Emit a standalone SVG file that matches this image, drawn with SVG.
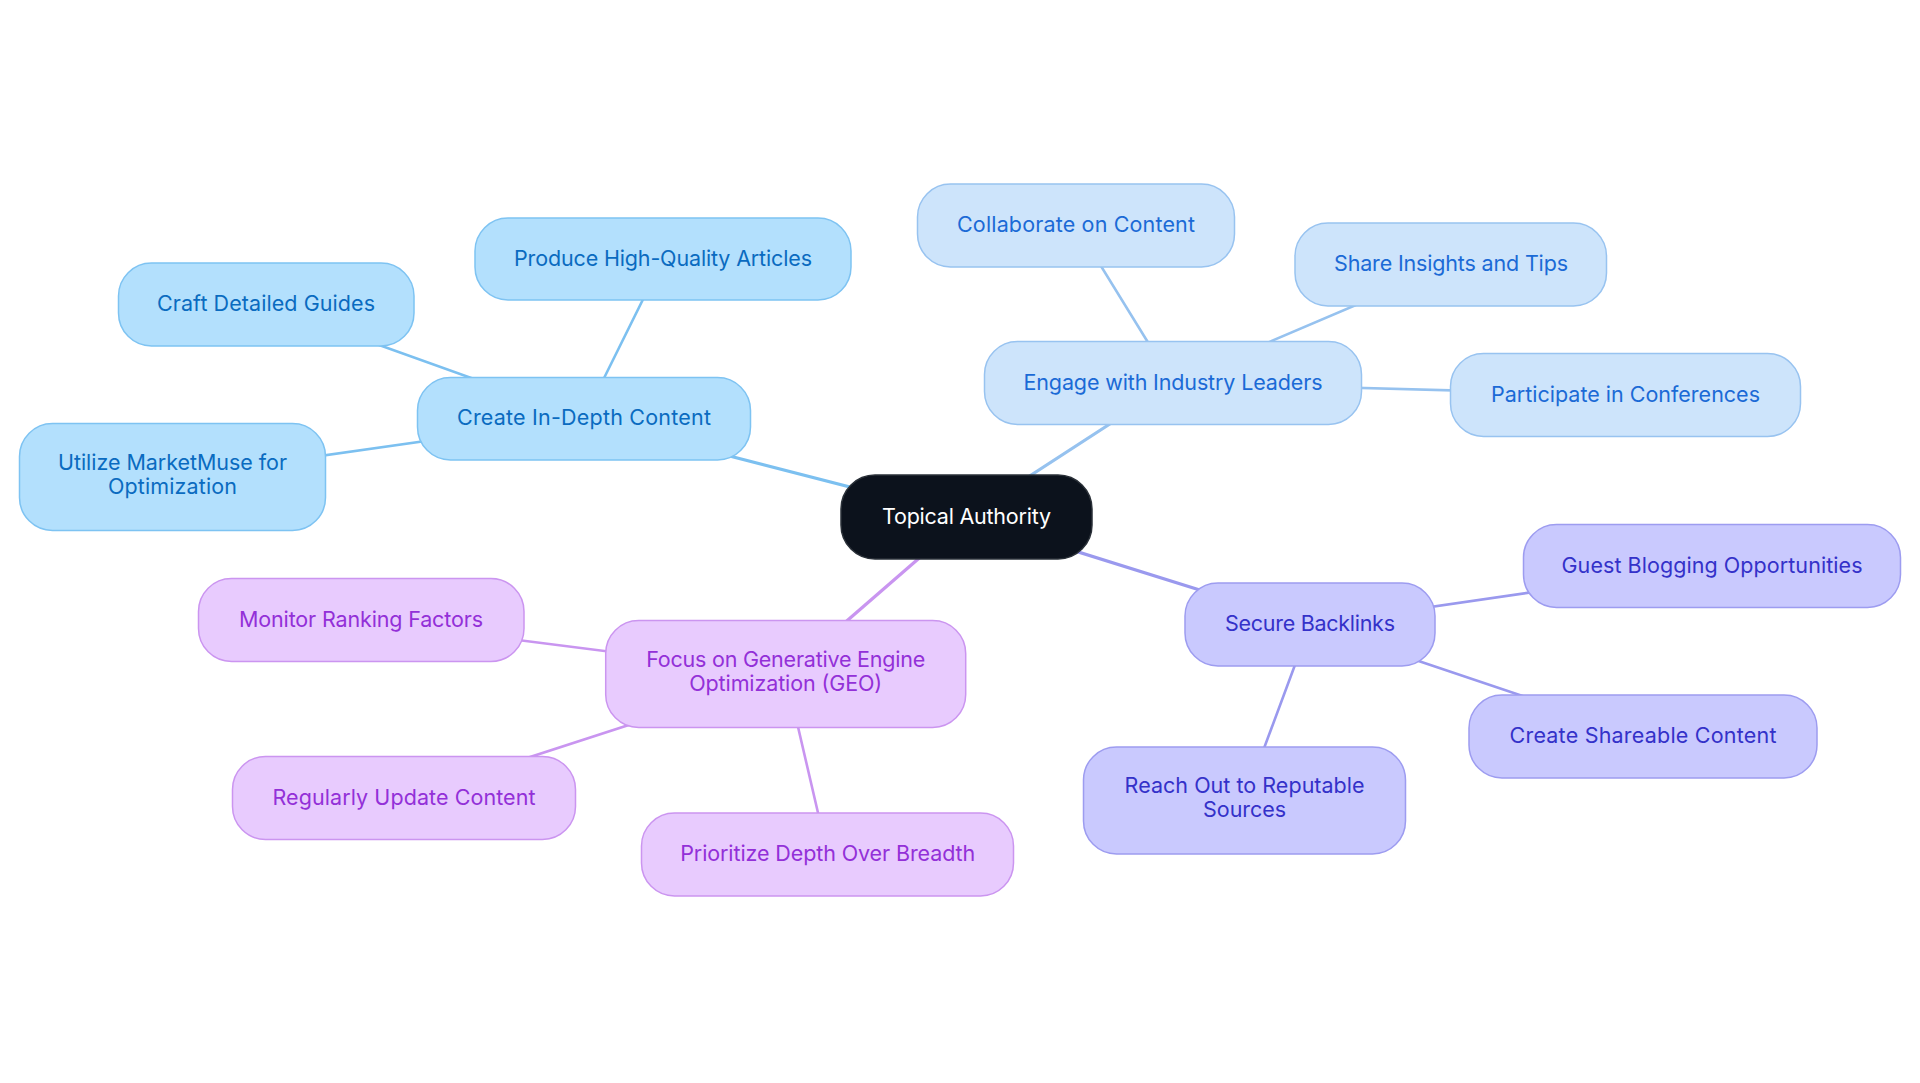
<svg xmlns="http://www.w3.org/2000/svg" width="1920" height="1083" viewBox="0 0 1920 1083">
<style>
text{font-family:Inter,"Noto Sans","Liberation Sans",sans-serif;font-size:21.5px;text-anchor:middle}
.e{fill:none;stroke-linecap:round}
.e0{stroke-width:3.2}
.e1{stroke-width:2.6}
.ea{stroke:#7cc0f0}.eb{stroke:#96c2ef}.ec{stroke:#9a99ee}.ed{stroke:#c995f0}
.n{stroke-width:1.5}
.root rect{fill:#0c121c;stroke:#2a3038}
.root text{fill:#ffffff}
.a rect{fill:#b3e0fd;stroke:#7ec3f2}.a text{fill:#0a6bc0}
.b rect{fill:#cde4fb;stroke:#98c3f0}.b text{fill:#1b6ad6}
.c rect{fill:#c9c9fe;stroke:#9d9cf0}.c text{fill:#3431c9}
.d rect{fill:#e8cbfe;stroke:#cb95f0}.d text{fill:#9330d8}
</style>
<rect width="1920" height="1083" fill="#ffffff"/>
<g id="connectors">
<line class="e e0 ea" x1="966.5" y1="517" x2="584" y2="418.5"/>
<line class="e e1 ea" x1="584" y1="418.5" x2="663" y2="259"/>
<line class="e e1 ea" x1="584" y1="418.5" x2="266" y2="304.5"/>
<line class="e e1 ea" x1="584" y1="418.5" x2="172.5" y2="477"/>
<line class="e e0 eb" x1="966.5" y1="517" x2="1173" y2="383"/>
<line class="e e1 eb" x1="1173" y1="383" x2="1076" y2="225.5"/>
<line class="e e1 eb" x1="1173" y1="383" x2="1451" y2="264.5"/>
<line class="e e1 eb" x1="1173" y1="383" x2="1625.5" y2="395"/>
<line class="e e0 ec" x1="966.5" y1="517" x2="1310" y2="624.5"/>
<line class="e e1 ec" x1="1310" y1="624.5" x2="1712" y2="566"/>
<line class="e e1 ec" x1="1310" y1="624.5" x2="1643" y2="736.5"/>
<line class="e e1 ec" x1="1310" y1="624.5" x2="1244.6" y2="800.5"/>
<line class="e e0 ed" x1="966.5" y1="517" x2="785.7" y2="674"/>
<line class="e e1 ed" x1="785.7" y1="674" x2="361" y2="620"/>
<line class="e e1 ed" x1="785.7" y1="674" x2="404" y2="798"/>
<line class="e e1 ed" x1="785.7" y1="674" x2="827.7" y2="854.5"/>
</g>
<g id="root" class="root"><rect class="n" x="841" y="475" width="251" height="84" rx="34"/><text x="966.5" y="523.5" textLength="169" lengthAdjust="spacing">Topical Authority</text></g>
<g id="create" class="a"><rect class="n" x="417.5" y="377.5" width="333" height="82.5" rx="33"/><text x="584" y="425" textLength="254" lengthAdjust="spacing">Create In-Depth Content</text></g>
<g id="produce" class="a"><rect class="n" x="475" y="218" width="376" height="82" rx="33"/><text x="663" y="265.5" textLength="298" lengthAdjust="spacing">Produce High-Quality Articles</text></g>
<g id="craft" class="a"><rect class="n" x="118.5" y="263" width="295.5" height="83" rx="33"/><text x="266" y="311" textLength="218" lengthAdjust="spacing">Craft Detailed Guides</text></g>
<g id="utilize" class="a"><rect class="n" x="19.5" y="423.5" width="306" height="107" rx="33"/><text x="172.5" y="469.5" textLength="229" lengthAdjust="spacing">Utilize MarketMuse for</text><text x="172.5" y="493.5" textLength="129" lengthAdjust="spacing">Optimization</text></g>
<g id="engage" class="b"><rect class="n" x="984.5" y="341.5" width="377" height="83" rx="33"/><text x="1173" y="389.5" textLength="299" lengthAdjust="spacing">Engage with Industry Leaders</text></g>
<g id="collaborate" class="b"><rect class="n" x="917.5" y="184" width="317" height="83" rx="33"/><text x="1076" y="232" textLength="238" lengthAdjust="spacing">Collaborate on Content</text></g>
<g id="share" class="b"><rect class="n" x="1295" y="223" width="311.5" height="83" rx="33"/><text x="1451" y="271" textLength="234" lengthAdjust="spacing">Share Insights and Tips</text></g>
<g id="participate" class="b"><rect class="n" x="1450.5" y="353.5" width="350" height="83" rx="33"/><text x="1625.5" y="401.5" textLength="269" lengthAdjust="spacing">Participate in Conferences</text></g>
<g id="secure" class="c"><rect class="n" x="1185" y="583" width="250" height="83" rx="33"/><text x="1310" y="631" textLength="170" lengthAdjust="spacing">Secure Backlinks</text></g>
<g id="guest" class="c"><rect class="n" x="1523.5" y="524.5" width="377" height="83" rx="33"/><text x="1712" y="572.5" textLength="301" lengthAdjust="spacing">Guest Blogging Opportunities</text></g>
<g id="shareable" class="c"><rect class="n" x="1469" y="695" width="348" height="83" rx="33"/><text x="1643" y="743" textLength="267" lengthAdjust="spacing">Create Shareable Content</text></g>
<g id="reach" class="c"><rect class="n" x="1083.5" y="747" width="322" height="107" rx="33"/><text x="1244.6" y="793" textLength="240" lengthAdjust="spacing">Reach Out to Reputable</text><text x="1244.6" y="817" textLength="83" lengthAdjust="spacing">Sources</text></g>
<g id="geo" class="d"><rect class="n" x="605.7" y="620.5" width="360" height="107" rx="33"/><text x="785.7" y="667" textLength="279" lengthAdjust="spacing">Focus on Generative Engine</text><text x="785.7" y="691" textLength="193" lengthAdjust="spacing">Optimization (GEO)</text></g>
<g id="monitor" class="d"><rect class="n" x="198.5" y="578.5" width="325.5" height="83" rx="33"/><text x="361" y="626.5" textLength="244" lengthAdjust="spacing">Monitor Ranking Factors</text></g>
<g id="regularly" class="d"><rect class="n" x="232.5" y="756.5" width="343" height="83" rx="33"/><text x="404" y="804.5" textLength="263" lengthAdjust="spacing">Regularly Update Content</text></g>
<g id="prioritize" class="d"><rect class="n" x="641.5" y="813" width="372" height="83" rx="33"/><text x="827.7" y="861" textLength="295" lengthAdjust="spacing">Prioritize Depth Over Breadth</text></g>
</svg>
